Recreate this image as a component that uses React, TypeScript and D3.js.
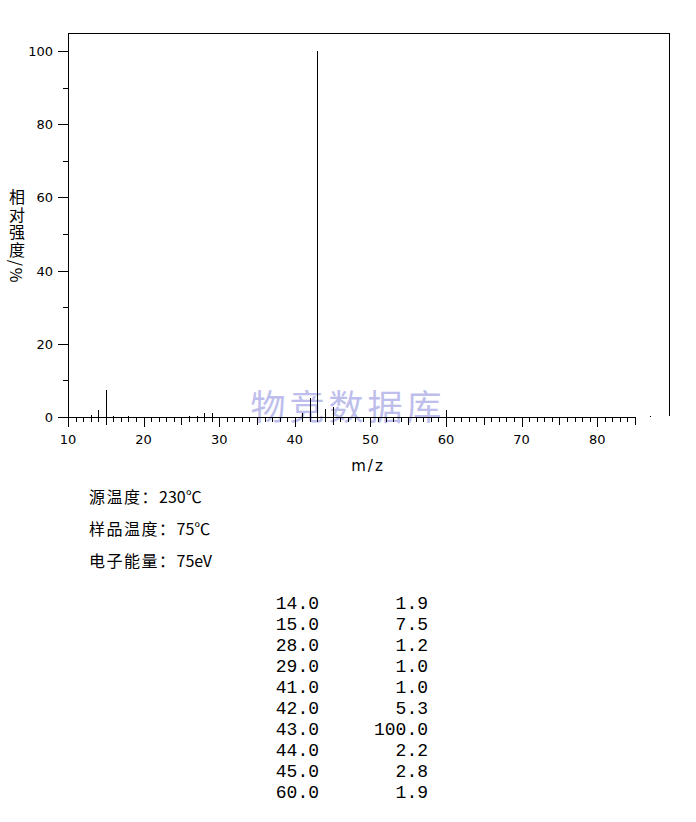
import React from "react";
import * as d3 from "d3";

// Peak list (m/z, relative intensity %)
const peakMz = [13, 14, 15, 16, 18, 26, 27, 28, 29, 41, 42, 43, 44, 45, 60, 87];
const peakInt = [0.5, 1.9, 7.5, 0.4, 0.3, 0.3, 0.4, 1.2, 1.0, 1.0, 5.3, 100.0, 2.2, 2.8, 1.9, 0.3];

// Table rows
const tableMz = ["14.0", "15.0", "28.0", "29.0", "41.0", "42.0", "43.0", "44.0", "45.0", "60.0"];
const tableInt = ["1.9", "7.5", "1.2", "1.0", "1.0", "5.3", "100.0", "2.2", "2.8", "1.9"];

const xTickLabels = [10, 20, 30, 40, 50, 60, 70, 80];
const yTickLabels = [0, 20, 40, 60, 80, 100];
const yLabel = "相对强度/%";
const infoLabels = ["源温度：", "样品温度：", "电子能量："];
const infoValues = ["230℃", "75℃", "75eV"];

const W = 696;
const H = 822;
const left = 68;
const right = 669;
const top = 33;
const bottom = 417;

export default function App() {
  const x = d3.scaleLinear().domain([10, 89.5]).range([left, right]);
  const y = d3.scaleLinear().domain([0, 100]).range([bottom, 51]);
  const xMinor = d3.range(10, 86, 1);
  const yMinor = d3.range(0, 101, 10);
  const tickFont = "'DejaVu Sans', sans-serif";
  const cjk = "'Noto Sans CJK SC', sans-serif";
  const mono = "'Liberation Mono', 'DejaVu Sans Mono', monospace";

  return (
    <svg
      width={W}
      height={H}
      style={{ position: "absolute", left: 0, top: 0, background: "#fff" }}
      shapeRendering="crispEdges"
    >
      <rect x={0} y={0} width={W} height={H} fill="#fff" />
      {/* watermark */}
      <text
        x={348}
        y={420}
        textAnchor="middle"
        fontFamily={cjk}
        fontSize={35}
        letterSpacing={4}
        fill="rgb(190,190,236)"
        shapeRendering="auto"
      >
        物竞数据库
      </text>
      {/* frame */}
      <line x1={left + 0.5} x2={left + 0.5} y1={top} y2={bottom} stroke="#000" />
      <line x1={left} x2={right + 0.5} y1={top + 0.5} y2={top + 0.5} stroke="#000" />
      <line x1={right + 0.5} x2={right + 0.5} y1={top} y2={bottom - 1} stroke="#000" />
      <line x1={left} x2={x(85) + 1} y1={bottom + 0.5} y2={bottom + 0.5} stroke="#000" />
      {/* x ticks */}
      {xMinor.map((v) => {
        const len = v % 10 === 0 ? 10 : v % 5 === 0 ? 8 : 5;
        const px = Math.round(x(v)) + 0.5;
        return <line key={"xt" + v} x1={px} x2={px} y1={bottom} y2={bottom + len} stroke="#000" />;
      })}
      {xTickLabels.map((v) => (
        <text
          key={"xl" + v}
          x={x(v)}
          y={444}
          textAnchor="middle"
          fontFamily={tickFont}
          fontSize={13}
          fill="#000"
        >
          {v}
        </text>
      ))}
      <text x={368} y={471} textAnchor="middle" fontFamily={tickFont} fontSize={15} letterSpacing={2} fill="#000">
        m/z
      </text>
      {/* y ticks */}
      {yMinor.map((v) => {
        const len = v % 20 === 0 ? 10 : 5;
        const py = Math.round(y(v)) + 0.5;
        return <line key={"yt" + v} x1={left - len} x2={left} y1={py} y2={py} stroke="#000" />;
      })}
      {yTickLabels.map((v) => (
        <text
          key={"yl" + v}
          x={53}
          y={y(v) + 5}
          textAnchor="end"
          fontFamily={tickFont}
          fontSize={13}
          fill="#000"
        >
          {v}
        </text>
      ))}
      {/* y label, vertical */}
      <text
        x={17}
        y={189}
        fontFamily={cjk}
        fontSize={16}
        letterSpacing={1.7}
        fill="#000"
        style={{ writingMode: "vertical-rl" } as React.CSSProperties}
      >
        {yLabel}
      </text>
      {/* peaks */}
      {peakMz.map((m, i) => {
        const px = Math.round(x(m)) + 0.5;
        return (
          <line
            key={"pk" + m}
            x1={px}
            x2={px}
            y1={y(peakInt[i])}
            y2={bottom}
            stroke="#000"
          />
        );
      })}
      {/* info */}
      {infoLabels.map((t, i) => (
        <text key={"info" + i} x={89} y={503 + i * 32} fontFamily={cjk} fontSize={16} fill="#000">
          <tspan letterSpacing={1.5}>{t}</tspan>
          <tspan>{infoValues[i]}</tspan>
        </text>
      ))}
      {/* table */}
      {tableMz.map((m, i) => (
        <g key={"row" + i}>
          <text x={319} y={609 + i * 21} textAnchor="end" fontFamily={mono} fontSize={18} fill="#000">
            {m}
          </text>
          <text x={428} y={609 + i * 21} textAnchor="end" fontFamily={mono} fontSize={18} fill="#000">
            {tableInt[i]}
          </text>
        </g>
      ))}
    </svg>
  );
}
